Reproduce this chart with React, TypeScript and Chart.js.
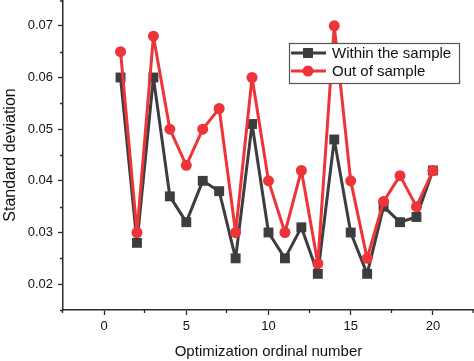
import React, { useEffect, useRef } from "react";
import { Chart, registerables } from "chart.js";

Chart.register(...registerables);

const ordinals = [1, 2, 3, 4, 5, 6, 7, 8, 9, 10, 11, 12, 13, 14, 15, 16, 17, 18, 19, 20];
const withinSample = [0.060, 0.028, 0.060, 0.037, 0.032, 0.040, 0.038, 0.025, 0.051, 0.030, 0.025, 0.031, 0.022, 0.048, 0.030, 0.022, 0.035, 0.032, 0.033, 0.042];
const outOfSample = [0.065, 0.030, 0.068, 0.050, 0.043, 0.050, 0.054, 0.030, 0.060, 0.040, 0.030, 0.042, 0.024, 0.070, 0.040, 0.025, 0.036, 0.041, 0.035, 0.042];
const xMajorTicks = [0, 5, 10, 15, 20];
const xMinorTicks = [-2.5, 2.5, 7.5, 12.5, 17.5, 22.5];
const yMajorTicks = [0.02, 0.03, 0.04, 0.05, 0.06, 0.07];
const yMinorTicks = [0.015, 0.025, 0.035, 0.045, 0.055, 0.065, 0.075];
const seriesNames = ["Within the sample", "Out of sample"];

const BLACK = "#3d3d3d";
const RED = "#ec3439";
const AXIS = "#2a2a2a";
const FONT = "'Liberation Sans', Arial, sans-serif";

const minorTicksPlugin = {
  id: "minorTicks",
  afterDraw(chart: any) {
    const ctx = chart.ctx;
    const xs = chart.scales.x;
    const ys = chart.scales.y;
    const ca = chart.chartArea;
    ctx.save();
    ctx.strokeStyle = AXIS;
    ctx.lineWidth = 1.3;
    ctx.beginPath();
    xMinorTicks.forEach((v) => {
      const px = Math.min(Math.round(xs.getPixelForValue(v)) - 0.5, ca.right - 1);
      ctx.moveTo(px, ca.bottom);
      ctx.lineTo(px, ca.bottom + 3);
    });
    yMinorTicks.forEach((v) => {
      const py = Math.max(Math.round(ys.getPixelForValue(v)) + 0.5, ca.top + 1);
      ctx.moveTo(ca.left, py);
      ctx.lineTo(ca.left - 3, py);
    });
    ctx.stroke();
    ctx.restore();
  },
};

const legendPlugin = {
  id: "boxLegend",
  afterDraw(chart: any) {
    const ctx = chart.ctx;
    const ca = chart.chartArea;
    const right = ca.right - 15;
    const left = right - 170;
    const top = ca.top + 43;
    const h = 40;
    ctx.save();
    ctx.fillStyle = "#ffffff";
    ctx.fillRect(left, top, right - left, h);
    ctx.strokeStyle = "#555555";
    ctx.lineWidth = 1.2;
    ctx.strokeRect(left + 0.5, top + 0.5, right - left, h);
    const items = [
      { name: seriesNames[0], color: BLACK, shape: "rect" },
      { name: seriesNames[1], color: RED, shape: "circle" },
    ];
    items.forEach((it, i) => {
      const cy = top + 10 + i * 18;
      ctx.strokeStyle = it.color;
      ctx.lineWidth = 3;
      ctx.beginPath();
      ctx.moveTo(left + 2, cy);
      ctx.lineTo(left + 37, cy);
      ctx.stroke();
      ctx.fillStyle = it.color;
      const mx = left + 19;
      if (it.shape === "rect") {
        ctx.fillRect(mx - 5, cy - 5, 10, 10);
      } else {
        ctx.beginPath();
        ctx.arc(mx, cy, 5.5, 0, Math.PI * 2);
        ctx.fill();
      }
      ctx.fillStyle = "#111111";
      ctx.font = `15px ${FONT}`;
      ctx.textBaseline = "middle";
      ctx.textAlign = "left";
      ctx.fillText(it.name, left + 43, cy + 1);
    });
    ctx.restore();
  },
};

export default function App() {
  const canvasRef = useRef<HTMLCanvasElement | null>(null);

  useEffect(() => {
    document.body.style.margin = "0";
    const canvas = canvasRef.current;
    if (!canvas) return;
    const chart = new Chart(canvas, {
      type: "line",
      data: {
        datasets: [
          {
            label: seriesNames[0],
            data: ordinals.map((x, i) => ({ x, y: withinSample[i] })),
            borderColor: BLACK,
            backgroundColor: BLACK,
            borderWidth: 3,
            borderJoinStyle: "round",
            pointStyle: "rect",
            pointRadius: 7,
            pointBorderWidth: 0,
            order: 1,
            tension: 0,
          },
          {
            label: seriesNames[1],
            data: ordinals.map((x, i) => ({ x, y: outOfSample[i] })),
            borderColor: RED,
            backgroundColor: RED,
            borderWidth: 3,
            borderJoinStyle: "round",
            pointStyle: "circle",
            pointRadius: 5.5,
            pointBorderWidth: 0,
            order: 0,
            tension: 0,
          },
        ],
      },
      options: {
        animation: false,
        responsive: false,
        maintainAspectRatio: false,
        clip: false as any,
        layout: { autoPadding: false, padding: { left: 0, right: 0, top: 0, bottom: 0 } },
        plugins: {
          legend: { display: false },
          tooltip: { enabled: false },
        },
        scales: {
          x: {
            type: "linear",
            min: -2.5,
            max: 22.5,
            afterBuildTicks: (s: any) => {
              s.ticks = xMajorTicks.map((v) => ({ value: v }));
            },
            afterFit: (s: any) => {
              s.height = 51;
              s.paddingLeft = 0;
              s.paddingRight = 0;
            },
            grid: {
              drawOnChartArea: false,
              drawTicks: true,
              tickLength: 5,
              tickWidth: 1.3,
              tickColor: AXIS,
            },
            border: { display: true, color: AXIS, width: 1.5 },
            ticks: {
              color: "#111111",
              font: { family: FONT, size: 13 },
              padding: 4,
              maxRotation: 0,
              callback: (v: any) => String(v),
            },
            title: {
              display: true,
              text: "Optimization ordinal number",
              color: "#111111",
              font: { family: FONT, size: 15 },
              padding: { top: 0, bottom: 0 },
            },
          },
          y: {
            type: "linear",
            min: 0.015,
            max: 0.075,
            afterBuildTicks: (s: any) => {
              s.ticks = yMajorTicks.map((v) => ({ value: v }));
            },
            afterFit: (s: any) => {
              s.width = 63;
              s.paddingTop = 0;
              s.paddingBottom = 0;
            },
            grid: {
              drawOnChartArea: false,
              drawTicks: true,
              tickLength: 5,
              tickWidth: 1.3,
              tickColor: AXIS,
            },
            border: { display: true, color: AXIS, width: 1.5 },
            ticks: {
              color: "#111111",
              font: { family: FONT, size: 13 },
              padding: 5,
              callback: (v: any) => Number(v).toFixed(2),
            },
            title: {
              display: true,
              text: "Standard deviation",
              color: "#111111",
              font: { family: FONT, size: 16 },
              padding: { top: 1, bottom: 0 },
            },
          },
        },
      },
      plugins: [minorTicksPlugin, legendPlugin],
    } as any);
    return () => chart.destroy();
  }, []);

  return (
    <div style={{ width: 474, height: 361, position: "relative", background: "#fff" }}>
      <canvas ref={canvasRef} width={474} height={361} style={{ display: "block" }} />
    </div>
  );
}
